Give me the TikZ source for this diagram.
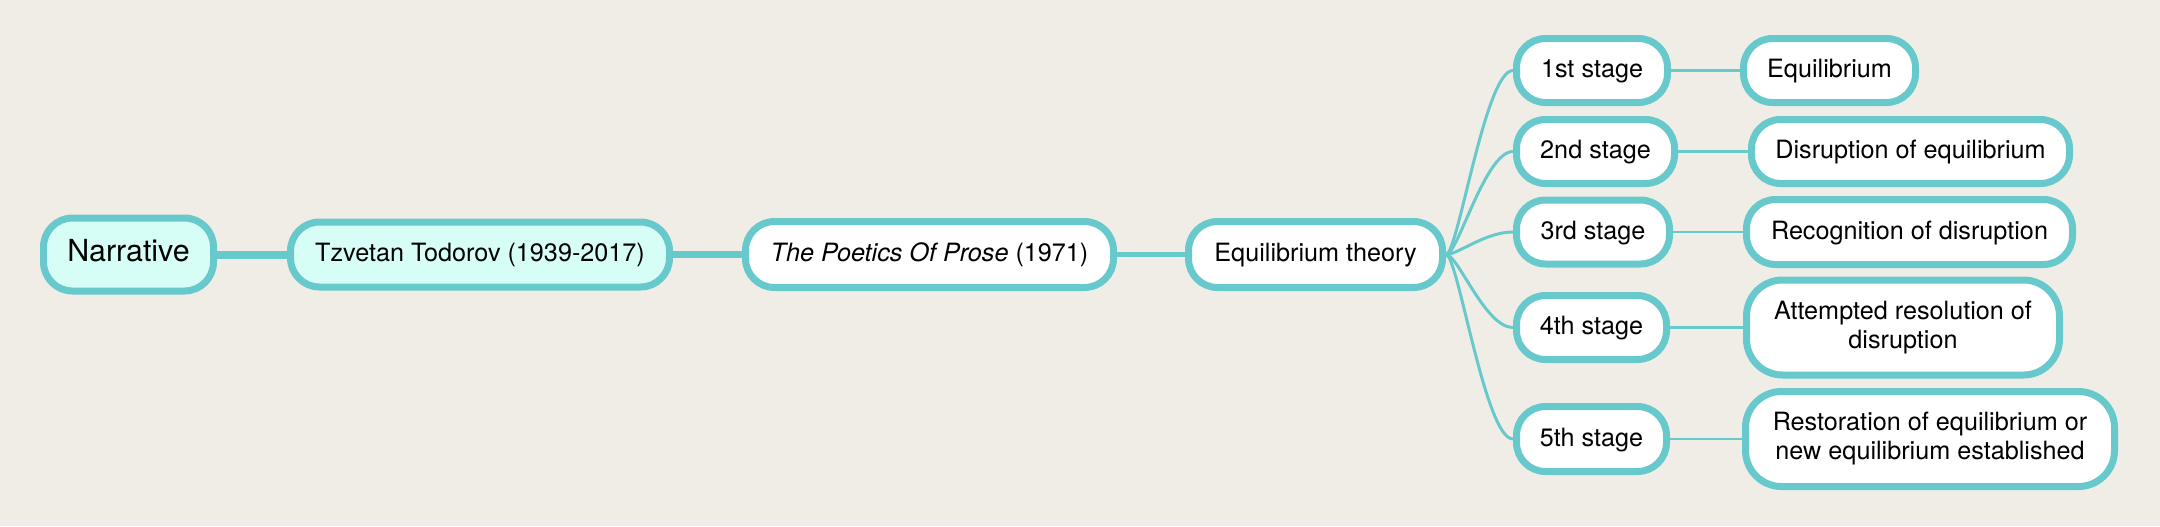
\documentclass[tikz,border=0pt]{standalone}
\usepackage{fontspec}
\setmainfont{TeX Gyre Heros}
\definecolor{mmline}{HTML}{68C9CD}
\definecolor{mmbg}{HTML}{F0EDE6}
\definecolor{mmmint}{HTML}{D6FEF6}
\tikzset{
  mmbase/.style={draw=mmline, line width=3.5pt, fill=white, rounded corners=14.5pt,
    inner sep=0pt, align=center, text=black, font=\fontsize{12.6pt}{14.5pt}\selectfont},
  mmbox/.style={mmbase, text height=0.72em, text depth=0pt},
  mmroot/.style={mmbox, fill=mmmint},
  mmtall/.style={mmbase, rounded corners=18pt},
  mmcurve/.style={draw=mmline, line width=1.5pt},
  mmlink/.style={draw=mmline, line width=1.3pt},
}
\begin{document}
\begin{tikzpicture}[x=0.5pt,y=-0.5pt]
\fill[mmbg] (0,0) rectangle (2160,526);
\useasboundingbox (0,0) rectangle (2160,526);

\node[mmroot, minimum width=85pt, minimum height=36.5pt, font=\fontsize{15.2pt}{17pt}\selectfont] (nar) at (128.5,254.5) {Narrative};
\node[mmroot, minimum width=189.5pt, minimum height=32.5pt] (tod) at (480,254.5) {Tzvetan Todorov (1939-2017)};
\node[mmbox, minimum width=184pt, minimum height=33pt] (poe) at (929.5,254.5) {\itshape The Poetics Of Prose\upshape{} (1971)};
\node[mmbox, minimum width=127pt, minimum height=33pt] (eqt) at (1315.5,254.5) {Equilibrium theory};

\node[mmbox, minimum width=75.5pt, minimum height=32pt] (s1) at (1592,70.5) {1st stage};
\node[mmbox, minimum width=79pt, minimum height=32pt] (s2) at (1595.5,151.5) {2nd stage};
\node[mmbox, minimum width=76.5pt, minimum height=32pt] (s3) at (1593,232) {3rd stage};
\node[mmbox, minimum width=75pt, minimum height=32pt] (s4) at (1591.5,327.5) {4th stage};
\node[mmbox, minimum width=75pt, minimum height=32.5pt] (s5) at (1591.5,439) {5th stage};

\node[mmbox, minimum width=86pt, minimum height=32pt] (e1) at (1829.5,70.5) {Equilibrium};
\node[mmbox, minimum width=159pt, minimum height=32pt] (e2) at (1910.5,151.5) {Disruption of equilibrium};
\node[mmbox, minimum width=163pt, minimum height=32.5pt] (e3) at (1909.5,232) {Recognition of disruption};
\node[mmtall, minimum width=156.5pt, minimum height=47.5pt] (e4) at (1903,327.5) {Attempted resolution of\\disruption};
\node[mmtall, minimum width=184.5pt, minimum height=47.5pt] (e5) at (1930,439) {Restoration of equilibrium or\\new equilibrium established};

\draw[draw=mmline, line width=4pt] (nar.east) -- (tod.west);
\draw[draw=mmline, line width=3.2pt] (tod.east) -- (poe.west);
\draw[draw=mmline, line width=2.3pt] (poe.east) -- (eqt.west);

\coordinate (org) at (eqt.east);
\foreach \s in {s1,s2,s3,s4,s5}{
  \draw[mmcurve] (org) .. controls +(12,0) and ([xshift=-14pt]\s.west) .. (\s.west);
}
\draw[mmlink] (s1.east) -- (e1.west);
\draw[mmlink] (s2.east) -- (e2.west);
\draw[mmlink] (s3.east) -- (e3.west);
\draw[mmlink] (s4.east) -- (e4.west);
\draw[mmlink] (s5.east) -- (e5.west);
\end{tikzpicture}
\end{document}
